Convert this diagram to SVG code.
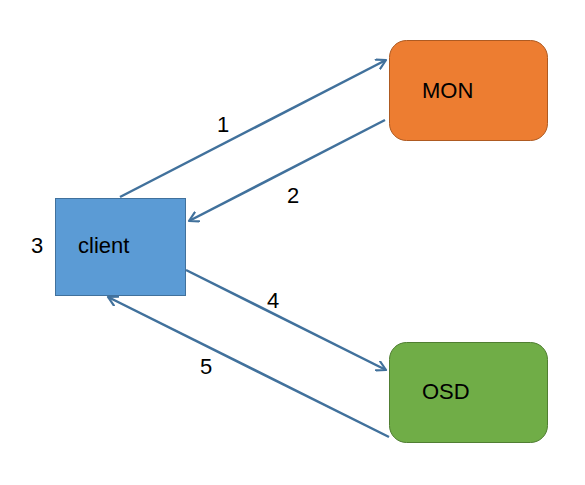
<svg xmlns="http://www.w3.org/2000/svg" width="585" height="485" viewBox="0 0 585 485">
<defs>
<style>
.lbl{font-family:"Liberation Sans",Arial,sans-serif;font-size:22px;fill:#000}
.conn{stroke:#41719C;stroke-width:2.5;fill:none;marker-end:url(#ah)}
</style>
<marker id="ah" viewBox="0 0 12 12" refX="10" refY="6" markerWidth="12" markerHeight="12" markerUnits="userSpaceOnUse" orient="auto">
<polyline points="1,1 10,6 1,11" fill="none" stroke="#41719C" stroke-width="2.2" stroke-linecap="round" stroke-linejoin="round"/>
</marker>
</defs>
<rect width="585" height="485" fill="#fff"/>
<g id="connectors">
<line class="conn" x1="120" y1="197" x2="386" y2="60"/>
<line class="conn" x1="385" y1="120" x2="189" y2="221"/>
<line class="conn" x1="186" y1="270" x2="386" y2="370"/>
<line class="conn" x1="389" y1="437" x2="108" y2="297"/>
<text class="lbl" x="217" y="132">1</text>
<text class="lbl" x="287" y="203">2</text>
<text class="lbl" x="267" y="308">4</text>
<text class="lbl" x="200" y="374">5</text>
</g>
<g id="client">
<rect x="55.5" y="198.5" width="130" height="97" fill="#5B9BD5" stroke="#41719C" stroke-width="1"/>
<text class="lbl" x="78" y="253">client</text>
<text class="lbl" x="31" y="253">3</text>
</g>
<g id="mon">
<rect x="389.5" y="40.5" width="158" height="100" rx="17" fill="#ED7D31" stroke="#AE5A21" stroke-width="1"/>
<text class="lbl" x="422" y="98">MON</text>
</g>
<g id="osd">
<rect x="389.5" y="342.5" width="158" height="100" rx="17" fill="#70AD47" stroke="#507E32" stroke-width="1"/>
<text class="lbl" x="422" y="399">OSD</text>
</g>
</svg>
